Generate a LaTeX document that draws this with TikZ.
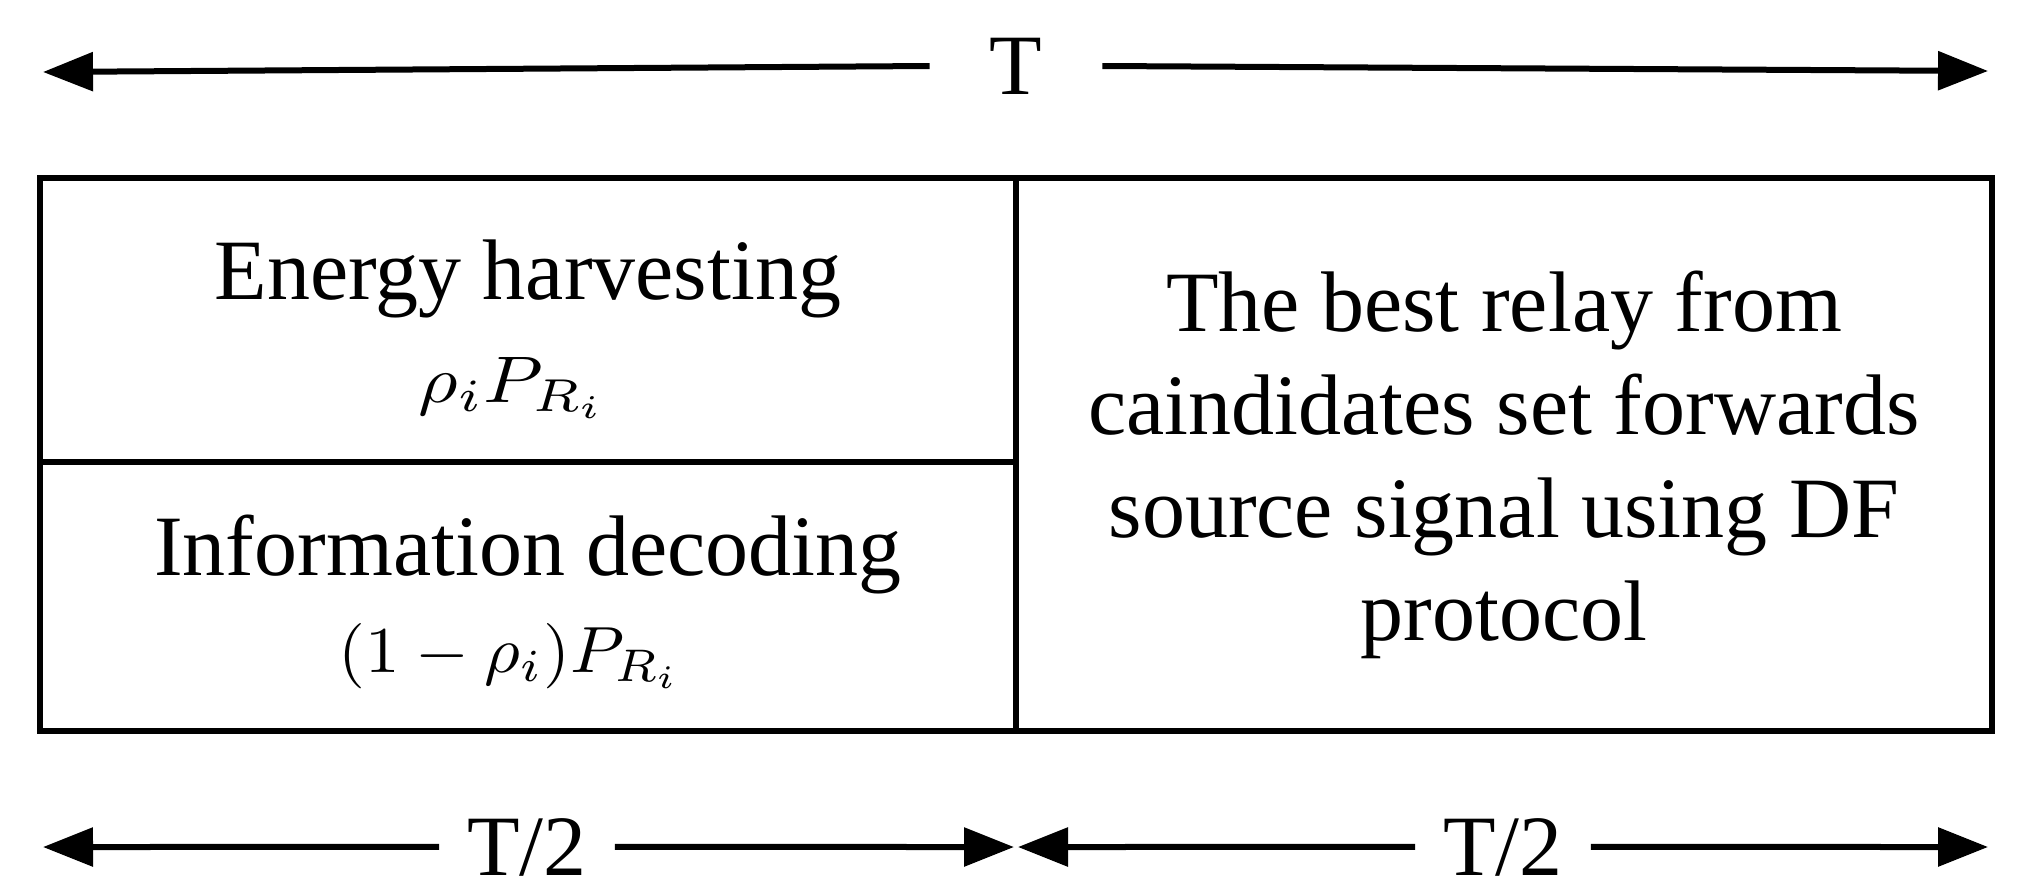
\documentclass[tikz,border=0pt]{standalone}
\usepackage{fontspec}
\setmainfont{Liberation Serif}
\usetikzlibrary{arrows.meta}
\begin{document}
\begin{tikzpicture}[x=1pt,y=-1pt,
  frame/.style={line width=6pt, line cap=rect},
  dimarrow/.style={line width=6pt,-{Triangle[length=50pt,width=38pt]}},
  lbl/.style={font=\fontsize{86}{103}\selectfont, inner ysep=0pt},
  mathlbl/.style={anchor=base, inner sep=0pt},
]
\useasboundingbox (0,0) rectangle (2033,894);
% frame
\draw[frame] (40,178) rectangle (1992,731);
\draw[frame] (1016,178) -- (1016,731);
\draw[frame] (40,462) -- (1016,462);
% left cells
\node[lbl, anchor=base] (eh) at (528,299) {Energy harvesting};
\node[mathlbl] (ehm) at (513,402) {\resizebox{188pt}{45pt}{$\rho_iP_{R_i}$}};
\node[lbl, anchor=base] (id) at (528,575) {Information decoding};
\node[mathlbl] (idm) at (510,672) {\resizebox{343pt}{49pt}{$(1-\rho_i)P_{R_i}$}};
% right cell
\node[lbl, align=center, anchor=center] (df) at (1504,465)
  {The best relay from\\caindidates set forwards\\source signal using DF\\protocol};
% top dimension
\node[lbl, inner xsep=60pt] (T) at (1016,66) {T};
\coordinate (tl) at (43,72);
\coordinate (tr) at (1988,71);
\draw[dimarrow] (T.west) -- (tl);
\draw[dimarrow] (T.east) -- (tr);
% bottom dimensions
\node[lbl, inner xsep=28pt, anchor=base] (h1) at (527,875) {T/2};
\node[lbl, inner xsep=28pt, anchor=base] (h2) at (1503,875) {T/2};
\coordinate (b1) at (43,847);
\coordinate (b2) at (1014,847);
\coordinate (b3) at (1018,847);
\coordinate (b4) at (1988,847);
\draw[dimarrow] (h1.west) -- (b1);
\draw[dimarrow] (h1.east) -- (b2);
\draw[dimarrow] (h2.west) -- (b3);
\draw[dimarrow] (h2.east) -- (b4);
\end{tikzpicture}
\end{document}
